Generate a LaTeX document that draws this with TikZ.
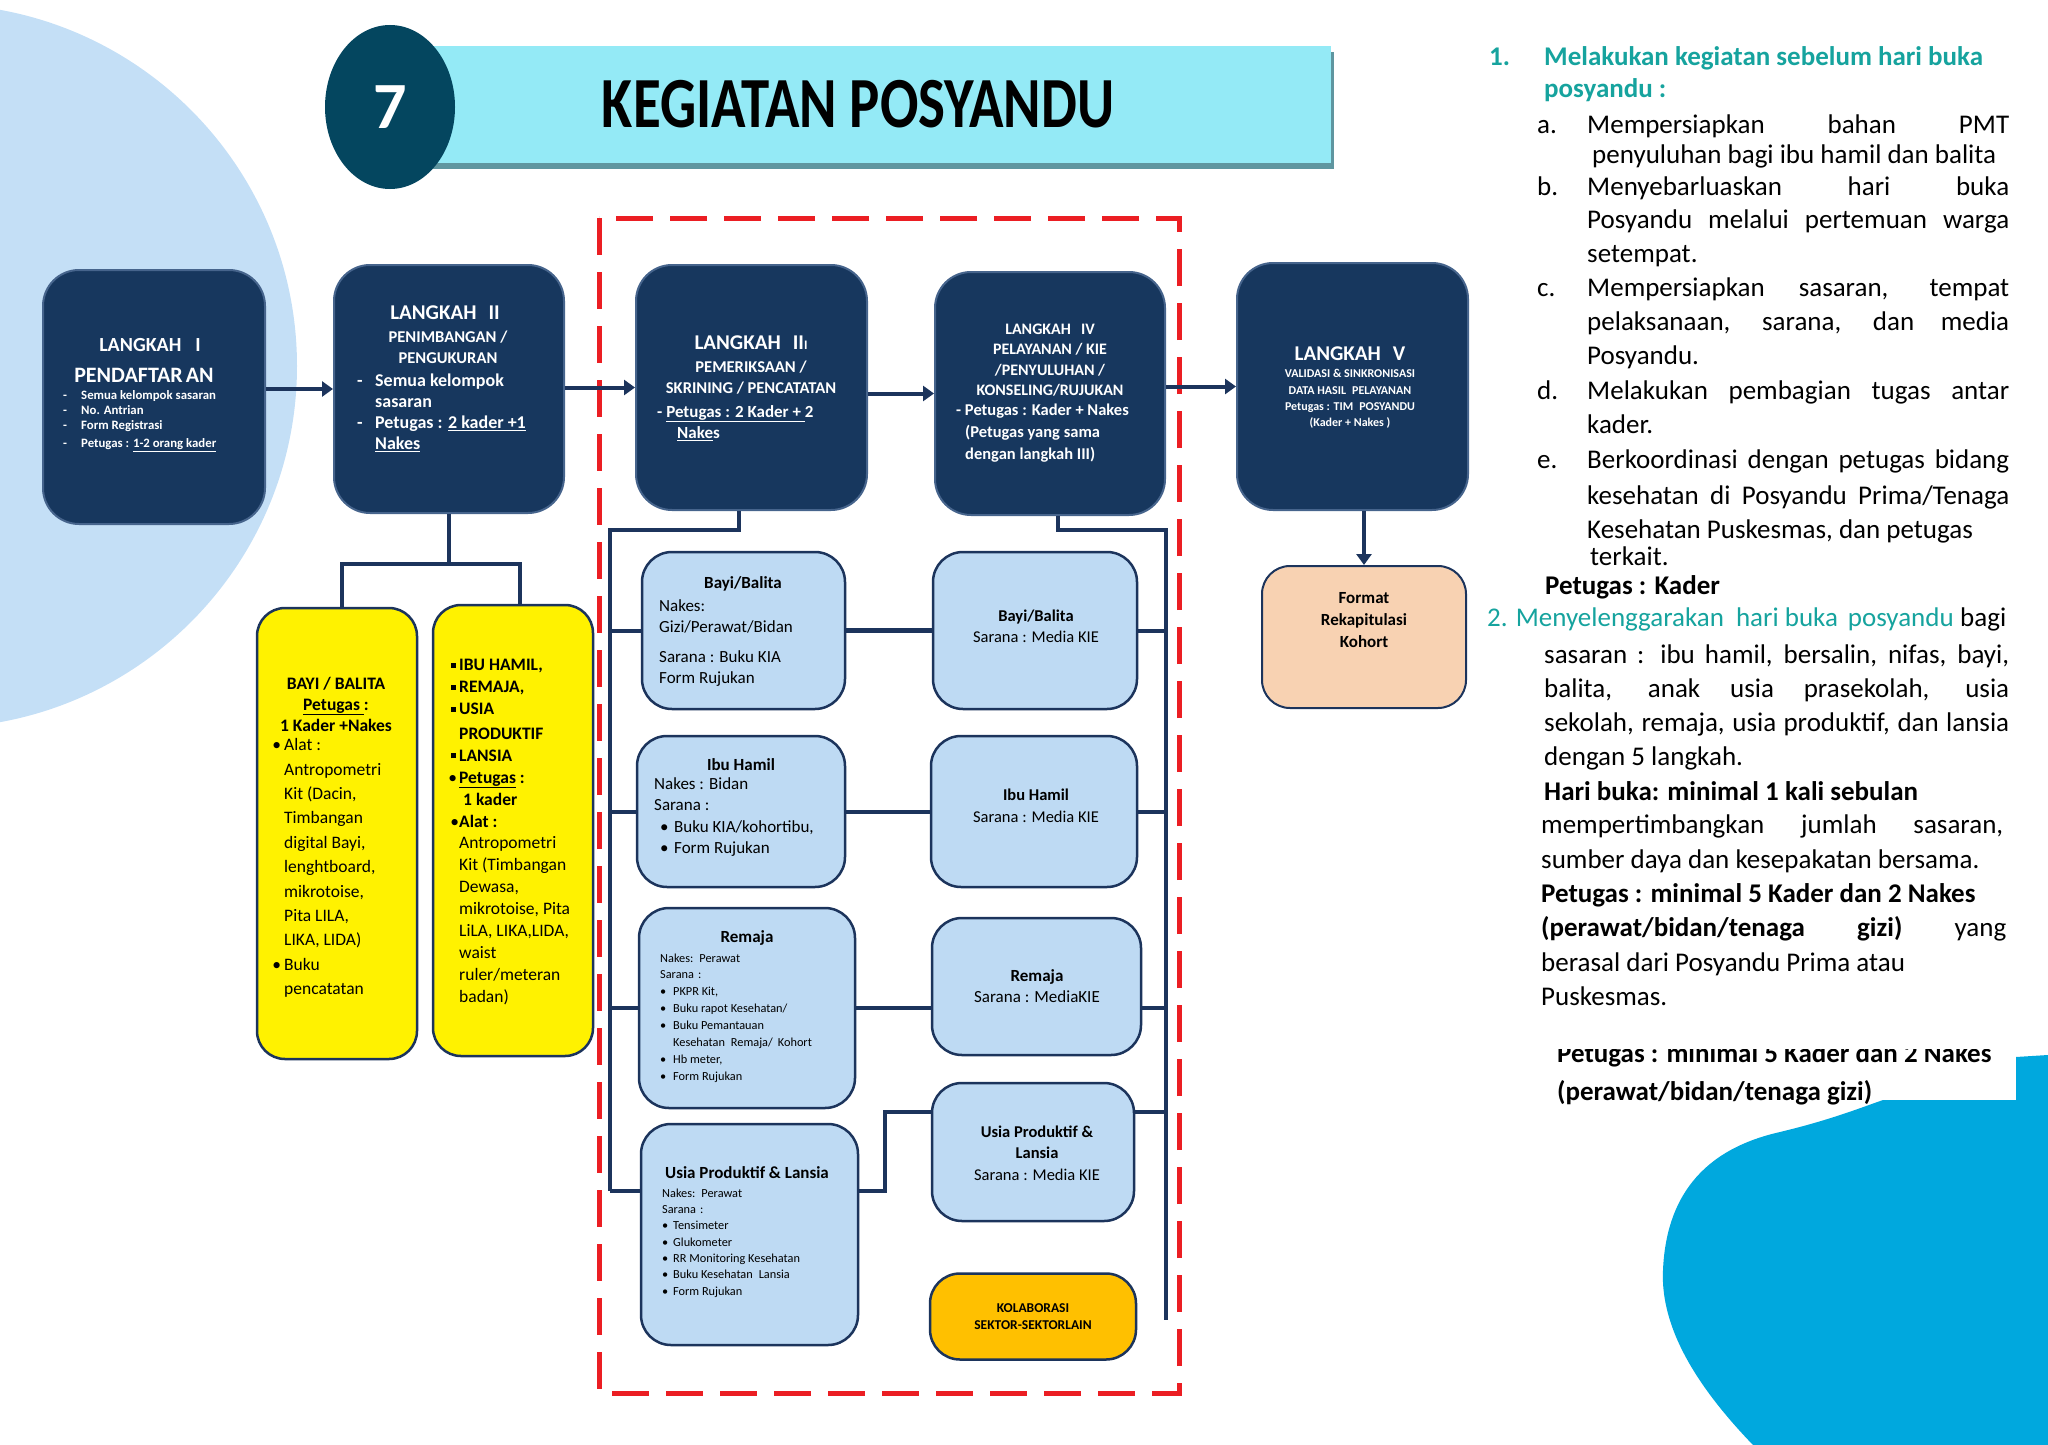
\documentclass[tikz,border=0pt]{standalone}
\usepackage{fontspec}
\setmainfont{Carlito}
\usetikzlibrary{arrows.meta,positioning,shapes.geometric}

\definecolor{navy}{RGB}{23,55,94}
\definecolor{navyrim}{RGB}{70,100,140}
\definecolor{navyline}{RGB}{28,52,92}
\definecolor{paleblue}{RGB}{190,218,243}
\definecolor{bgblue}{RGB}{196,223,246}
\definecolor{titlecyan}{RGB}{148,234,246}
\definecolor{titleshade}{RGB}{95,150,160}
\definecolor{darkteal}{RGB}{4,70,95}
\definecolor{tealtext}{RGB}{22,163,158}
\definecolor{peach}{RGB}{248,210,178}
\definecolor{amber}{RGB}{255,192,0}
\definecolor{blobblue}{RGB}{0,168,222}
\definecolor{dashred}{RGB}{235,30,35}

\newcommand{\setfs}[2]{\fontsize{#1}{#2}\selectfont}
\newcommand{\sqbul}{\llap{\rule[3pt]{5pt}{5pt}\hspace{3pt}}}
\newcommand{\dotbul}[1]{\makebox[#1][l]{\textbullet}}

\begin{document}
\begin{tikzpicture}[x=1pt, y=-1pt,
  boxsize/.style 2 args={minimum width=#1pt, minimum height=#2pt},
  stepbox/.style={draw=navyrim, line width=2pt, fill=navy, rounded corners=36pt, inner sep=0pt},
  infobox/.style={draw=navyline, line width=2.5pt, fill=paleblue, rounded corners=30pt, inner sep=0pt},
  groupbox/.style={draw=navyline, line width=2.5pt, fill=yellow, rounded corners=28pt, inner sep=0pt},
  steptxt/.style={text=white, align=center, inner sep=0pt},
  boxtxt/.style={align=center, inner sep=0pt},
  listtxt/.style={anchor=west, align=left, inner sep=0pt},
  rline/.style={anchor=west, inner sep=0pt, text height=18pt, text depth=5pt, font=\setfs{27}{34}},
  link/.style={draw=navyline, line width=4pt},
  arrow/.style={link, -{Triangle[length=11pt, width=15pt]}}
]
\useasboundingbox (0,0) rectangle (2048,1445);

% background shapes
\begin{scope}
  \clip (0,0) rectangle (2048,1445);
  \fill[bgblue] (-65,366) circle[radius=362pt];
\end{scope}
\fill[blobblue] (2016,1057) -- (2048,1055) -- (2048,1445) -- (1753,1445)
  .. controls (1700,1390) and (1660,1330) .. (1663,1270)
  .. controls (1666,1200) and (1700,1150) .. (1780,1132)
  .. controls (1830,1120) and (1860,1108) .. (1883,1100)
  -- (2016,1100) -- cycle;

% title
\fill[titleshade] (420,52) rectangle (1334,169);
\fill[titlecyan] (418,46) rectangle (1331,163);
\node[font=\setfs{72}{80}\bfseries, inner sep=0pt] (title) at (858,104) {\scalebox{0.79}[1]{KEGIATAN POSYANDU}};
\node[ellipse, fill=darkteal, minimum width=130pt, minimum height=164pt, text=white, font=\setfs{66}{70}\bfseries] (num) at (390,107) {7};

% dashed frame round steps III and IV
\draw[dashred, line width=5pt, dash pattern=on 37pt off 17pt] (599,218) rectangle (1179,1393);

% step boxes
\node[stepbox, boxsize={222}{254}] (l1) at (154,397) {};
\node[stepbox, boxsize={230}{248}] (l2) at (449,389) {};
\node[stepbox, boxsize={231}{245}] (l3) at (751.5,387.5) {};
\node[stepbox, boxsize={230}{243}] (l4) at (1050,393.5) {};
\node[stepbox, boxsize={231}{247}] (l5) at (1352.5,386.5) {};
\node[stepbox, fill=peach, draw=navyline, rounded corners=28pt, boxsize={204}{142}, below=54pt of l5, xshift=11.5pt] (fmt) {};

% target groups
\node[groupbox, boxsize={160}{451}] (yb) at (337,833.5) {};
\node[groupbox, boxsize={160}{451}] (yh) at (513,830.5) {};

% pemeriksaan and KIE boxes
\node[infobox, boxsize={203}{157}] (pb1) at (743.5,630.5) {};
\node[infobox, boxsize={208}{151}] (pb2) at (741,811.5) {};
\node[infobox, boxsize={216}{200}] (pb3) at (747,1008) {};
\node[infobox, boxsize={217}{221}] (pb4) at (749.5,1234.5) {};
\node[infobox, boxsize={204}{157}] (kb1) at (1035,630.5) {};
\node[infobox, boxsize={206}{151}] (kb2) at (1034,811.5) {};
\node[infobox, boxsize={209}{137}] (kb3) at (1036.5,986.5) {};
\node[infobox, boxsize={202}{138}] (kb4) at (1033,1152) {};
\node[infobox, fill=amber, boxsize={206}{86}, below=50pt of kb4] (kolab) {};

% connectors
\foreach \a/\b in {l1/l2, l2/l3, l3/l4, l4/l5}
  \draw[arrow] (\b.west -| \a.east) -- (\b.west);
\draw[arrow] (l5.south -| fmt.north) -- (fmt.north);

\coordinate (tj) at (449,564);
\draw[link, line width=3.5pt] (l2.south) -- (tj);
\draw[link, line width=3.5pt] ([xshift=5pt]yb.north) |- (tj) -| ([xshift=7pt]yh.north);

\coordinate (lbus) at (610,530);
\coordinate (rbus) at (1166,530);
\coordinate (pb4in) at ([yshift=44pt]pb4.west);
\coordinate (pb4out) at ([yshift=44pt]pb4.east);
\coordinate (ustep) at (885,1112);
\coordinate (rend) at (1166,1320);
\draw[link] ([xshift=-13pt]l3.south) |- (lbus) -- (lbus |- pb4in);
\draw[link] ([xshift=8pt]l4.south) |- (rbus) -- (rend);
\foreach \n in {pb1,pb2,pb3}
  \draw[link] (lbus |- \n.west) -- (\n.west);
\draw[link] (lbus |- pb4in) -- (pb4in);
\draw[link, line width=5pt] (pb1.east) -- (pb1.east -| kb1.west);
\draw[link] (pb2.east) -- (pb2.east -| kb2.west);
\draw[link] (pb3.east) -- (pb3.east -| kb3.west);
\draw[link] (pb4out) -| (ustep) -- (ustep -| kb4.west);
\foreach \n in {kb1,kb2}
  \draw[link] (\n.east) -- (\n.east -| rbus);
\draw[link] (pb3.east -| kb3.east) -- (pb3.east -| rbus);
\draw[link] (ustep -| kb4.east) -- (ustep -| rbus);

% texts of step boxes
\node[steptxt, font=\setfs{20}{24}\bfseries] (l1a) at (150,345) {LANGKAH\hspace{14pt}I};
\node[steptxt, font=\setfs{22}{26}\bfseries] (l1b) at (144,375) {PENDAFTAR\hspace{3pt}AN};
\node[steptxt, listtxt, font=\setfs{12.8}{15}\bfseries] (l1c) at (63,421)
  {\makebox[18pt][l]{-}Semua kelompok sasaran\\\makebox[18pt][l]{-}No. Antrian\\\makebox[18pt][l]{-}Form Registrasi\\[3pt]\makebox[18pt][l]{-}Petugas : \underline{1-2 orang kader}};

\node[steptxt, font=\setfs{21}{24}\bfseries] (l2a) at (445,313) {LANGKAH\hspace{12pt}II};
\node[steptxt, font=\setfs{16.5}{21}\bfseries] (l2b) at (448,347) {PENIMBANGAN /\\PENGUKURAN};
\node[steptxt, listtxt, font=\setfs{18}{21}\bfseries] (l2c) at (357,413)
  {\makebox[18pt][l]{-}Semua kelompok\\\hspace*{18pt}sasaran\\\makebox[18pt][l]{-}Petugas : \underline{2 kader +1}\\\hspace*{18pt}\underline{Nakes}};

\node[steptxt, font=\setfs{21}{24}\bfseries] (l3a) at (751,343) {LANGKAH\hspace{12pt}II{\setfs{13}{13}I}};
\node[steptxt, font=\setfs{16.5}{21}\bfseries] (l3b) at (751,378) {PEMERIKSAAN /\\SKRINING / PENCATATAN};
\node[steptxt, listtxt, font=\setfs{17}{21}\bfseries] (l3c) at (657,423)
  {-~\underline{Petugas : 2 Kader + }2\\\hspace*{20pt}\underline{Nake}s};

\node[steptxt, font=\setfs{16}{20.5}\bfseries] (l4a) at (1050,360)
  {LANGKAH\hspace{10pt}IV\\PELAYANAN / KIE\\/PENYULUHAN /\\KONSELING/RUJUKAN};
\node[steptxt, listtxt, font=\setfs{16.5}{22}\bfseries] (l4b) at (956,433)
  {- Petugas : Kader + Nakes\\\hspace*{9pt}(Petugas yang sama\\\hspace*{9pt}dengan langkah III)};

\node[steptxt, font=\setfs{21}{24}\bfseries] (l5a) at (1350,354) {LANGKAH\hspace{12pt}V};
\node[steptxt, font=\setfs{12}{16.3}\bfseries] (l5b) at (1350,399)
  {VALIDASI \& SINKRONISASI\\DATA HASIL\hspace{6pt}PELAYANAN\\Petugas : TIM\hspace{6pt}POSYANDU\\(Kader + Nakes )};

\node[boxtxt, font=\setfs{17}{22}\bfseries] (fmtt) at (1364,620) {Format\\Rekapitulasi\\Kohort};

% texts of target groups
\node[boxtxt, font=\setfs{17.5}{21}\bfseries] (yba) at (336,704) {BAYI / BALITA\\\underline{Petugas }:\\1 Kader +Nakes};
\node[listtxt, font=\setfs{17.5}{24.4}] (ybb) at (284,868)
  {\llap{\textbullet\hspace{3pt}}Alat :\\Antropometri\\Kit (Dacin,\\Timbangan\\digital Bayi,\\lenghtboard,\\mikrotoise,\\Pita LILA,\\LIKA, LIDA)\\\llap{\textbullet\hspace{3pt}}Buku\\pencatatan};
\node[listtxt, font=\setfs{17.5}{21.9}] (yha) at (459,832)
  {\sqbul\textbf{IBU HAMIL,}\\\sqbul\textbf{REMAJA,}\\\sqbul\textbf{USIA}\\[3pt]\textbf{PRODUKTIF}\\\sqbul\textbf{LANSIA}\\\llap{\textbullet\hspace{2pt}}\textbf{\underline{Petugas} :}\\\hspace*{4pt}\textbf{1 kader}\\\llap{\textbullet}\textbf{Alat :}\\Antropometri\\Kit (Timbangan\\Dewasa,\\mikrotoise, Pita\\LiLA, LIKA,LIDA,\\waist\\ruler/meteran\\badan)};

% texts of pemeriksaan boxes
\node[boxtxt, font=\setfs{17}{21}\bfseries] (pb1a) at (743,584) {Bayi/Balita};
\node[listtxt, font=\setfs{17}{21}] (pb1b) at (659,643)
  {Nakes:\\Gizi/Perawat/Bidan\\[9pt]Sarana : Buku KIA\\Form Rujukan};
\node[boxtxt, font=\setfs{17}{21}\bfseries] (pb2a) at (741,765) {Ibu Hamil};
\node[listtxt, font=\setfs{17}{21.3}] (pb2b) at (654,817)
  {Nakes : Bidan\\Sarana :\\\hspace*{6pt}\dotbul{14pt}Buku KIA/kohortibu,\\\hspace*{6pt}\dotbul{14pt}Form Rujukan};
\node[boxtxt, font=\setfs{17}{21}\bfseries] (pb3a) at (747,938) {Remaja};
\node[listtxt, font=\setfs{12.3}{16.9}] (pb3b) at (660,1018)
  {Nakes:\hspace{6pt}Perawat\\Sarana\hspace{4pt}:\\\dotbul{13pt}PKPR Kit,\\\dotbul{13pt}Buku rapot Kesehatan/\\\dotbul{13pt}Buku Pemantauan\\\hspace*{13pt}Kesehatan\hspace{6pt}Remaja/\hspace{5pt}Kohort\\\dotbul{13pt}Hb meter,\\\dotbul{13pt}Form Rujukan};
\node[boxtxt, font=\setfs{17}{21}\bfseries] (pb4a) at (747,1173) {Usia Produktif \& Lansia};
\node[listtxt, font=\setfs{12.3}{16.3}] (pb4b) at (662,1243)
  {Nakes:\hspace{6pt}Perawat\\Sarana\hspace{4pt}:\\\dotbul{11pt}Tensimeter\\\dotbul{11pt}Glukometer\\\dotbul{11pt}RR Monitoring Kesehatan\\\dotbul{11pt}Buku Kesehatan\hspace{6pt}Lansia\\\dotbul{11pt}Form Rujukan};

% texts of KIE boxes
\node[boxtxt, font=\setfs{16.5}{21}] (kb1t) at (1036,626) {\textbf{Bayi/Balita}\\Sarana : Media KIE};
\node[boxtxt, font=\setfs{16.5}{22}] (kb2t) at (1036,806) {\textbf{Ibu Hamil}\\Sarana : Media KIE};
\node[boxtxt, font=\setfs{17}{21}] (kb3t) at (1037,986) {\textbf{Remaja}\\Sarana : MediaKIE};
\node[boxtxt, font=\setfs{16.5}{21.5}] (kb4t) at (1037,1153) {\textbf{Usia Produktif \&}\\\textbf{Lansia}\\Sarana : Media KIE};
\node[boxtxt, font=\setfs{13.5}{17}\bfseries] (kolabt) at (kolab) {KOLABORASI\\SEKTOR-SEKTORLAIN};

% right column
\node[rline, text=tealtext, font=\setfs{27}{34}\bfseries] (h1n) at (1489,59) {1.};
\node[rline, text=tealtext, font=\setfs{27}{34}\bfseries] (h1a) at (1544,59) {Melakukan kegiatan sebelum hari buka};
\node[rline, text=tealtext, font=\setfs{27}{34}\bfseries] (h1b) at (1544,91) {posyandu :};
\foreach \n/\y/\lab in {la/127/a., lb/189/b., lc/290/c., ld/393/d., le/462/e.}
  \node[rline] (\n) at (1537,\y) {\lab};
\foreach \n/\x/\y/\txt in {
  ra1/1587/127/{\makebox[422pt][s]{Mempersiapkan bahan PMT}},
  ra2/1592/157/{penyuluhan bagi ibu hamil dan balita},
  rb1/1587/189/{\makebox[422pt][s]{Menyebarluaskan hari buka}},
  rb2/1587/222/{\makebox[422pt][s]{Posyandu melalui pertemuan warga}},
  rb3/1587/256/{setempat.},
  rc1/1587/290/{\makebox[422pt][s]{Mempersiapkan sasaran, tempat}},
  rc2/1587/324/{\makebox[422pt][s]{pelaksanaan, sarana, dan media}},
  rc3/1587/358/{Posyandu.},
  rd1/1587/393/{\makebox[422pt][s]{Melakukan pembagian tugas antar}},
  rd2/1587/427/{kader.},
  re1/1587/462/{\makebox[422pt][s]{Berkoordinasi dengan petugas bidang}},
  re2/1587/498/{\makebox[422pt][s]{kesehatan di Posyandu Prima/Tenaga}},
  re3/1587/532/{Kesehatan Puskesmas, dan petugas},
  re4/1590/559/{terkait.},
  rk/1545/588/{\bfseries Petugas : Kader},
  h2/1487/620/{\makebox[519pt][l]{\textcolor{tealtext}{2. Menyelenggarakan\hspace{12pt}hari buka\hspace{10pt}posyandu}\hfill bagi}},
  s1/1544/657/{\makebox[465pt][s]{sasaran : ibu hamil, bersalin, nifas, bayi,}},
  s2/1544/691/{\makebox[465pt][s]{balita, anak usia prasekolah, usia}},
  s3/1544/725/{\makebox[465pt][s]{sekolah, remaja, usia produktif, dan lansia}},
  s4/1544/759/{dengan 5 langkah.},
  s5/1544/794/{\bfseries Hari buka: minimal 1 kali sebulan},
  s6/1541/827/{\makebox[462pt][s]{mempertimbangkan jumlah sasaran,}},
  s7/1541/862/{sumber daya dan kesepakatan bersama.},
  s8/1541/896/{\bfseries Petugas : minimal 5 Kader dan 2 Nakes},
  s9/1541/930/{\makebox[465pt][s]{\textbf{(perawat/bidan/tenaga} \textbf{gizi)} yang}},
  s10/1541/965/{berasal dari Posyandu Prima atau},
  s11/1541/999/{Puskesmas.},
  s13/1557/1094/{\bfseries (perawat/bidan/tenaga gizi)}}
  \node[rline] (\n) at (\x,\y) {\txt};
\begin{scope}
  \clip (1500,1049) rectangle (2010,1075);
  \node[rline, font=\setfs{27}{34}\bfseries] (s12) at (1557,1056) {Petugas : minimal 5 Kader dan 2 Nakes};
\end{scope}
\end{tikzpicture}
\end{document}
